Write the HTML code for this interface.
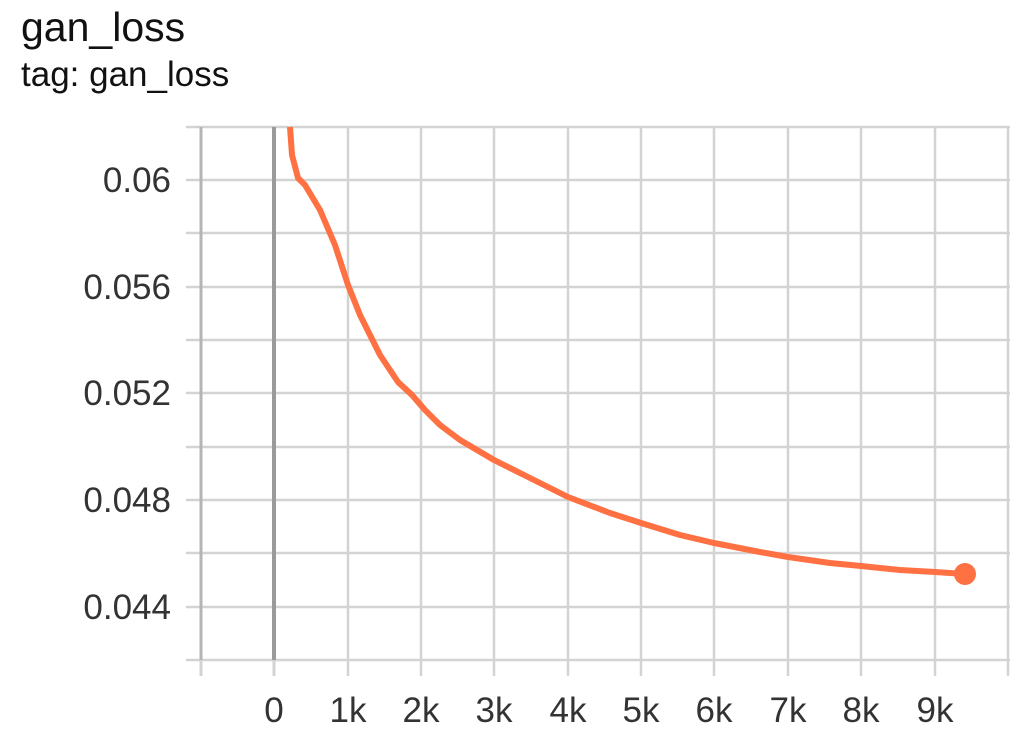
<!DOCTYPE html>
<html><head><style>body{margin:0;background:#fff;}svg text{font-family:"Liberation Sans",sans-serif;}</style></head>
<body>
<svg width="1036" height="743" xmlns="http://www.w3.org/2000/svg">
<text x="21" y="41" font-size="41" fill="#111">gan_loss</text>
<text x="21" y="86" font-size="35" fill="#111">tag: gan_loss</text>
<g stroke="#d3d3d3" stroke-width="2.5">
<line x1="186" y1="127" x2="1010" y2="127"/><line x1="186" y1="180" x2="1010" y2="180"/>
<line x1="186" y1="233" x2="1010" y2="233"/><line x1="186" y1="287" x2="1010" y2="287"/>
<line x1="186" y1="340" x2="1010" y2="340"/><line x1="186" y1="393" x2="1010" y2="393"/>
<line x1="186" y1="447" x2="1010" y2="447"/><line x1="186" y1="500" x2="1010" y2="500"/>
<line x1="186" y1="553" x2="1010" y2="553"/><line x1="186" y1="607" x2="1010" y2="607"/>
<line x1="186" y1="660" x2="1010" y2="660"/>
<line x1="348" y1="127" x2="348" y2="676"/><line x1="421" y1="127" x2="421" y2="676"/>
<line x1="494" y1="127" x2="494" y2="676"/><line x1="568" y1="127" x2="568" y2="676"/>
<line x1="641" y1="127" x2="641" y2="676"/><line x1="714" y1="127" x2="714" y2="676"/>
<line x1="788" y1="127" x2="788" y2="676"/><line x1="861" y1="127" x2="861" y2="676"/>
<line x1="935" y1="127" x2="935" y2="676"/><line x1="1008" y1="127" x2="1008" y2="676"/>
</g>
<line x1="201" y1="127" x2="201" y2="660" stroke="#b5b5b5" stroke-width="3"/>
<line x1="201" y1="660" x2="201" y2="676" stroke="#d3d3d3" stroke-width="3"/>
<line x1="274" y1="127" x2="274" y2="660" stroke="#9a9a9a" stroke-width="4"/>
<line x1="274" y1="660" x2="274" y2="676" stroke="#d3d3d3" stroke-width="3"/>
<g font-size="35" fill="#333" text-anchor="end">
<text x="171" y="192">0.06</text><text x="171" y="299">0.056</text>
<text x="171" y="405">0.052</text><text x="171" y="512">0.048</text>
<text x="171" y="619">0.044</text>
</g>
<g font-size="35" fill="#333" text-anchor="middle">
<text x="274" y="722">0</text><text x="348" y="722">1k</text><text x="421" y="722">2k</text>
<text x="494" y="722">3k</text><text x="568" y="722">4k</text><text x="641" y="722">5k</text>
<text x="714" y="722">6k</text><text x="788" y="722">7k</text><text x="861" y="722">8k</text>
<text x="935" y="722">9k</text>
</g>
<polyline fill="none" stroke="#ff7043" stroke-width="6" stroke-linejoin="round" points="290,127 292,155 298,178 305,185 320,210 335,245 348,285 360,315 380,355 398,382 412,395 425,410 440,425 460,440 494,460 530,478 568,497 610,513 641,523 680,535 714,543 760,552 788,557 830,563 861,566 900,570 935,572 965,574"/>
<circle cx="965" cy="574" r="11" fill="#ff7043"/>
</svg>
</body></html>
